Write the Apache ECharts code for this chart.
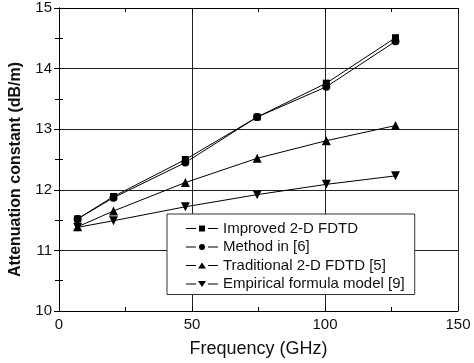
<!DOCTYPE html>
<html><head><meta charset="utf-8">
<script src="https://cdn.jsdelivr.net/npm/echarts@6/dist/echarts.min.js"></script>
<style>html,body{margin:0;padding:0;background:#fff}#c{width:474px;height:363px}</style>
</head><body><div id="c"></div>
<script>
var freq = [7, 20.5, 47.5, 74.5, 100.5, 126.5];
var improved = [11.52, 11.89, 12.50, 13.20, 13.76, 14.51];
var method6 = [11.52, 11.87, 12.45, 13.20, 13.70, 14.45];
var traditional = [11.39, 11.65, 12.12, 12.52, 12.81, 13.06];
var empirical = [11.38, 11.49, 11.72, 11.92, 12.09, 12.23];
var seriesNames = ['Improved 2-D FDTD', 'Method in [6]', 'Traditional 2-D FDTD [5]', 'Empirical formula model [9]'];
var xTicks = [0, 50, 100, 150];
var yTicks = [10, 11, 12, 13, 14, 15];

function pairs(v){ return freq.map(function(f,i){ return [f, v[i]]; }); }
var font = 'Liberation Sans, Arial, sans-serif';
var chart = echarts.init(document.getElementById('c'), null, {renderer:'canvas'});
function mk(name, data, symbol, size, rot){
  return {name:name, type:'line', data:pairs(data), symbol:symbol, symbolSize:size, symbolRotate:rot||0,
    lineStyle:{color:'#000', width:1}, itemStyle:{color:'#000'}, showSymbol:true, animation:false, z:3};
}
var lines = 'M0 2.4 H10 V3.6 H0 Z M22 2.4 H32 V3.6 H22 Z ';
var icons = [
  'path://' + lines + 'M13 0 H19 V6 H13 Z',
  'path://' + lines + 'M13 3 A3 3 0 1 1 19 3 A3 3 0 1 1 13 3 Z',
  'path://' + lines + 'M12 6 L16 0 L20 6 Z',
  'path://' + lines + 'M12 0 L20 0 L16 6 Z'
];
var axisLine = {show:true, lineStyle:{color:'#000', width:1}};
chart.setOption({
  animation:false,
  grid:{left:52, right:16, top:8, bottom:52, show:false},
  legend:{
    orient:'vertical', left:167, top:214, width:254,
    backgroundColor:'#fff', borderColor:'#333', borderWidth:1,
    padding:[7,10,3,19], itemWidth:32, itemHeight:6, itemGap:3.5,
    textStyle:{fontFamily:font, fontSize:15, color:'#111', lineHeight:15},
    data:seriesNames.map(function(n,i){ return {name:n, icon:icons[i]}; })
  },
  xAxis:[{
    type:'value', min:0, max:150, interval:50, position:'bottom',
    axisLine:axisLine,
    axisTick:{show:true, inside:true, length:5, lineStyle:{color:'#000'}},
    minorTick:{show:true, splitNumber:2, length:4, lineStyle:{color:'#000'}},
    splitLine:{show:true, lineStyle:{color:'#222', width:1}},
    axisLabel:{fontFamily:font, fontSize:15, color:'#111', margin:6,
      formatter:function(v){ return xTicks.indexOf(v) >= 0 ? String(v) : ''; }},
    name:'Frequency (GHz)', nameLocation:'middle', nameGap:29,
    nameTextStyle:{fontFamily:font, fontSize:18, color:'#111'}
  },{
    type:'value', min:0, max:150, interval:50, position:'top',
    axisLine:axisLine,
    axisTick:{show:true, inside:true, length:5, lineStyle:{color:'#000'}},
    minorTick:{show:true, splitNumber:2, length:4, lineStyle:{color:'#000'}},
    splitLine:{show:false}, axisLabel:{show:false}
  }],
  yAxis:[{
    type:'value', min:10, max:15, interval:1, position:'left',
    axisLine:axisLine,
    axisTick:{show:true, inside:true, length:5, lineStyle:{color:'#000'}},
    minorTick:{show:true, splitNumber:2, length:4, lineStyle:{color:'#000'}},
    splitLine:{show:true, lineStyle:{color:'#222', width:1}},
    axisLabel:{fontFamily:font, fontSize:15, color:'#111', margin:7,
      formatter:function(v){ return yTicks.indexOf(v) >= 0 ? String(v) : ''; }},
    name:'Attenuation constant (dB/m)', nameLocation:'middle', nameGap:35, nameRotate:90,
    nameTextStyle:{fontFamily:font, fontSize:16, fontWeight:'bold', color:'#111', padding:[0,20,0,0]}
  },{
    type:'value', min:10, max:15, interval:1, position:'right',
    axisLine:axisLine,
    axisTick:{show:true, inside:true, length:5, lineStyle:{color:'#000'}},
    minorTick:{show:true, splitNumber:2, length:4, lineStyle:{color:'#000'}},
    splitLine:{show:false}, axisLabel:{show:false}
  }],
  series:[
    mk(seriesNames[0], improved, 'rect', 7),
    mk(seriesNames[1], method6, 'circle', 8),
    mk(seriesNames[2], traditional, 'triangle', 9),
    mk(seriesNames[3], empirical, 'triangle', 9, 180)
  ]
});
</script></body></html>
